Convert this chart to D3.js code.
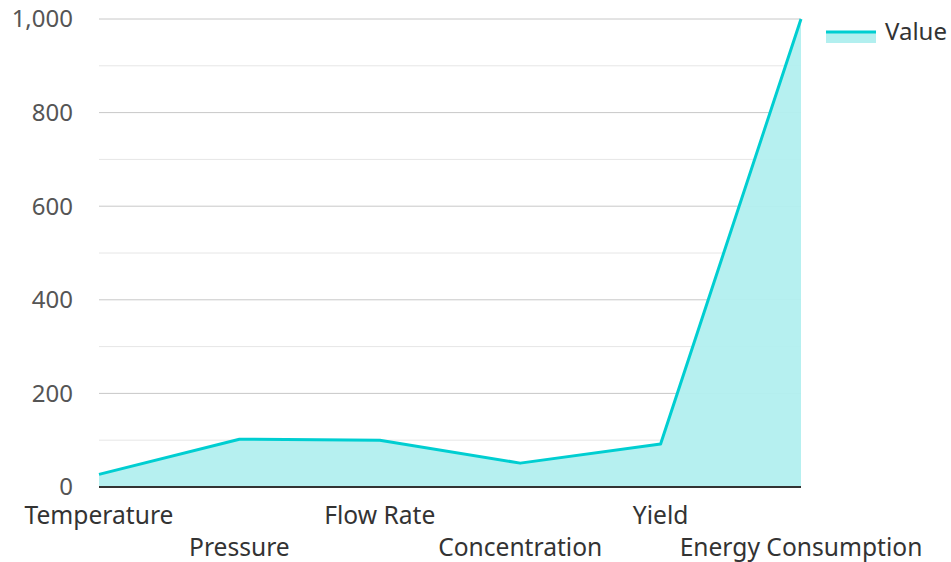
<!DOCTYPE html>
<html><head><meta charset="utf-8">
<script src="https://cdn.jsdelivr.net/npm/d3@7/dist/d3.min.js"></script>
<style>body{margin:0;background:#fff}svg{display:block;font-family:"Noto Sans",sans-serif}</style>
</head><body><svg id="c" width="951" height="562"></svg>
<script>
const categories = ["Temperature","Pressure","Flow Rate","Concentration","Yield","Energy Consumption"];
const values = [27, 102, 100, 51, 92, 1000];
const yTicks = [0,200,400,600,800,1000];
const yMinor = [100,300,500,700,900];
const seriesName = "Value";

const svg = d3.select("#c");
const L=99, R=801, T=19, B=487;
const x = d3.scalePoint().domain(categories).range([L,R]);
const y = d3.scaleLinear().domain([0,1000]).range([B,T]);
const lineCol = "#00CED1", fillCol = "#B2EFEF";

svg.append("g").selectAll("line").data(yMinor).join("line")
  .attr("x1",L).attr("x2",R).attr("y1",d=>y(d)).attr("y2",d=>y(d))
  .attr("stroke","#e6e6e6").attr("stroke-width",1);
svg.append("g").selectAll("line").data(yTicks.filter(d=>d>0)).join("line")
  .attr("x1",L).attr("x2",R).attr("y1",d=>y(d)).attr("y2",d=>y(d))
  .attr("stroke","#c8c8c8").attr("stroke-width",1);

const area = d3.area().x((d,i)=>x(categories[i])).y0(y(0)).y1(d=>y(d));
const line = d3.line().x((d,i)=>x(categories[i])).y(d=>y(d));
svg.append("path").datum(values).attr("d",area).attr("fill",fillCol).attr("opacity",0.95);
svg.append("path").datum(values).attr("d",line).attr("fill","none").attr("stroke",lineCol).attr("stroke-width",3).attr("stroke-linejoin","round");

svg.append("line").attr("x1",L).attr("x2",R).attr("y1",B).attr("y2",B).attr("stroke","#333").attr("stroke-width",2);

svg.append("g").selectAll("text").data(yTicks).join("text")
  .attr("x",73).attr("y",d=>y(d)).attr("dy","0.35em").attr("text-anchor","end")
  .attr("font-size",24).attr("fill","#555").text(d3.format(","));

svg.append("g").selectAll("text").data(categories).join("text")
  .attr("x",d=>x(d)).attr("y",(d,i)=> i%2===0 ? 524 : 556).attr("text-anchor","middle")
  .attr("font-size",24.6).attr("fill","#333").text(d=>d);

const lg = svg.append("g");
lg.append("rect").attr("x",826).attr("y",31).attr("width",50).attr("height",12).attr("fill",fillCol);
lg.append("line").attr("x1",826).attr("x2",876).attr("y1",32).attr("y2",32).attr("stroke",lineCol).attr("stroke-width",3);
lg.append("text").attr("x",885).attr("y",32).attr("dy","0.35em").attr("font-size",24).attr("fill","#333").text(seriesName);
</script></body></html>
